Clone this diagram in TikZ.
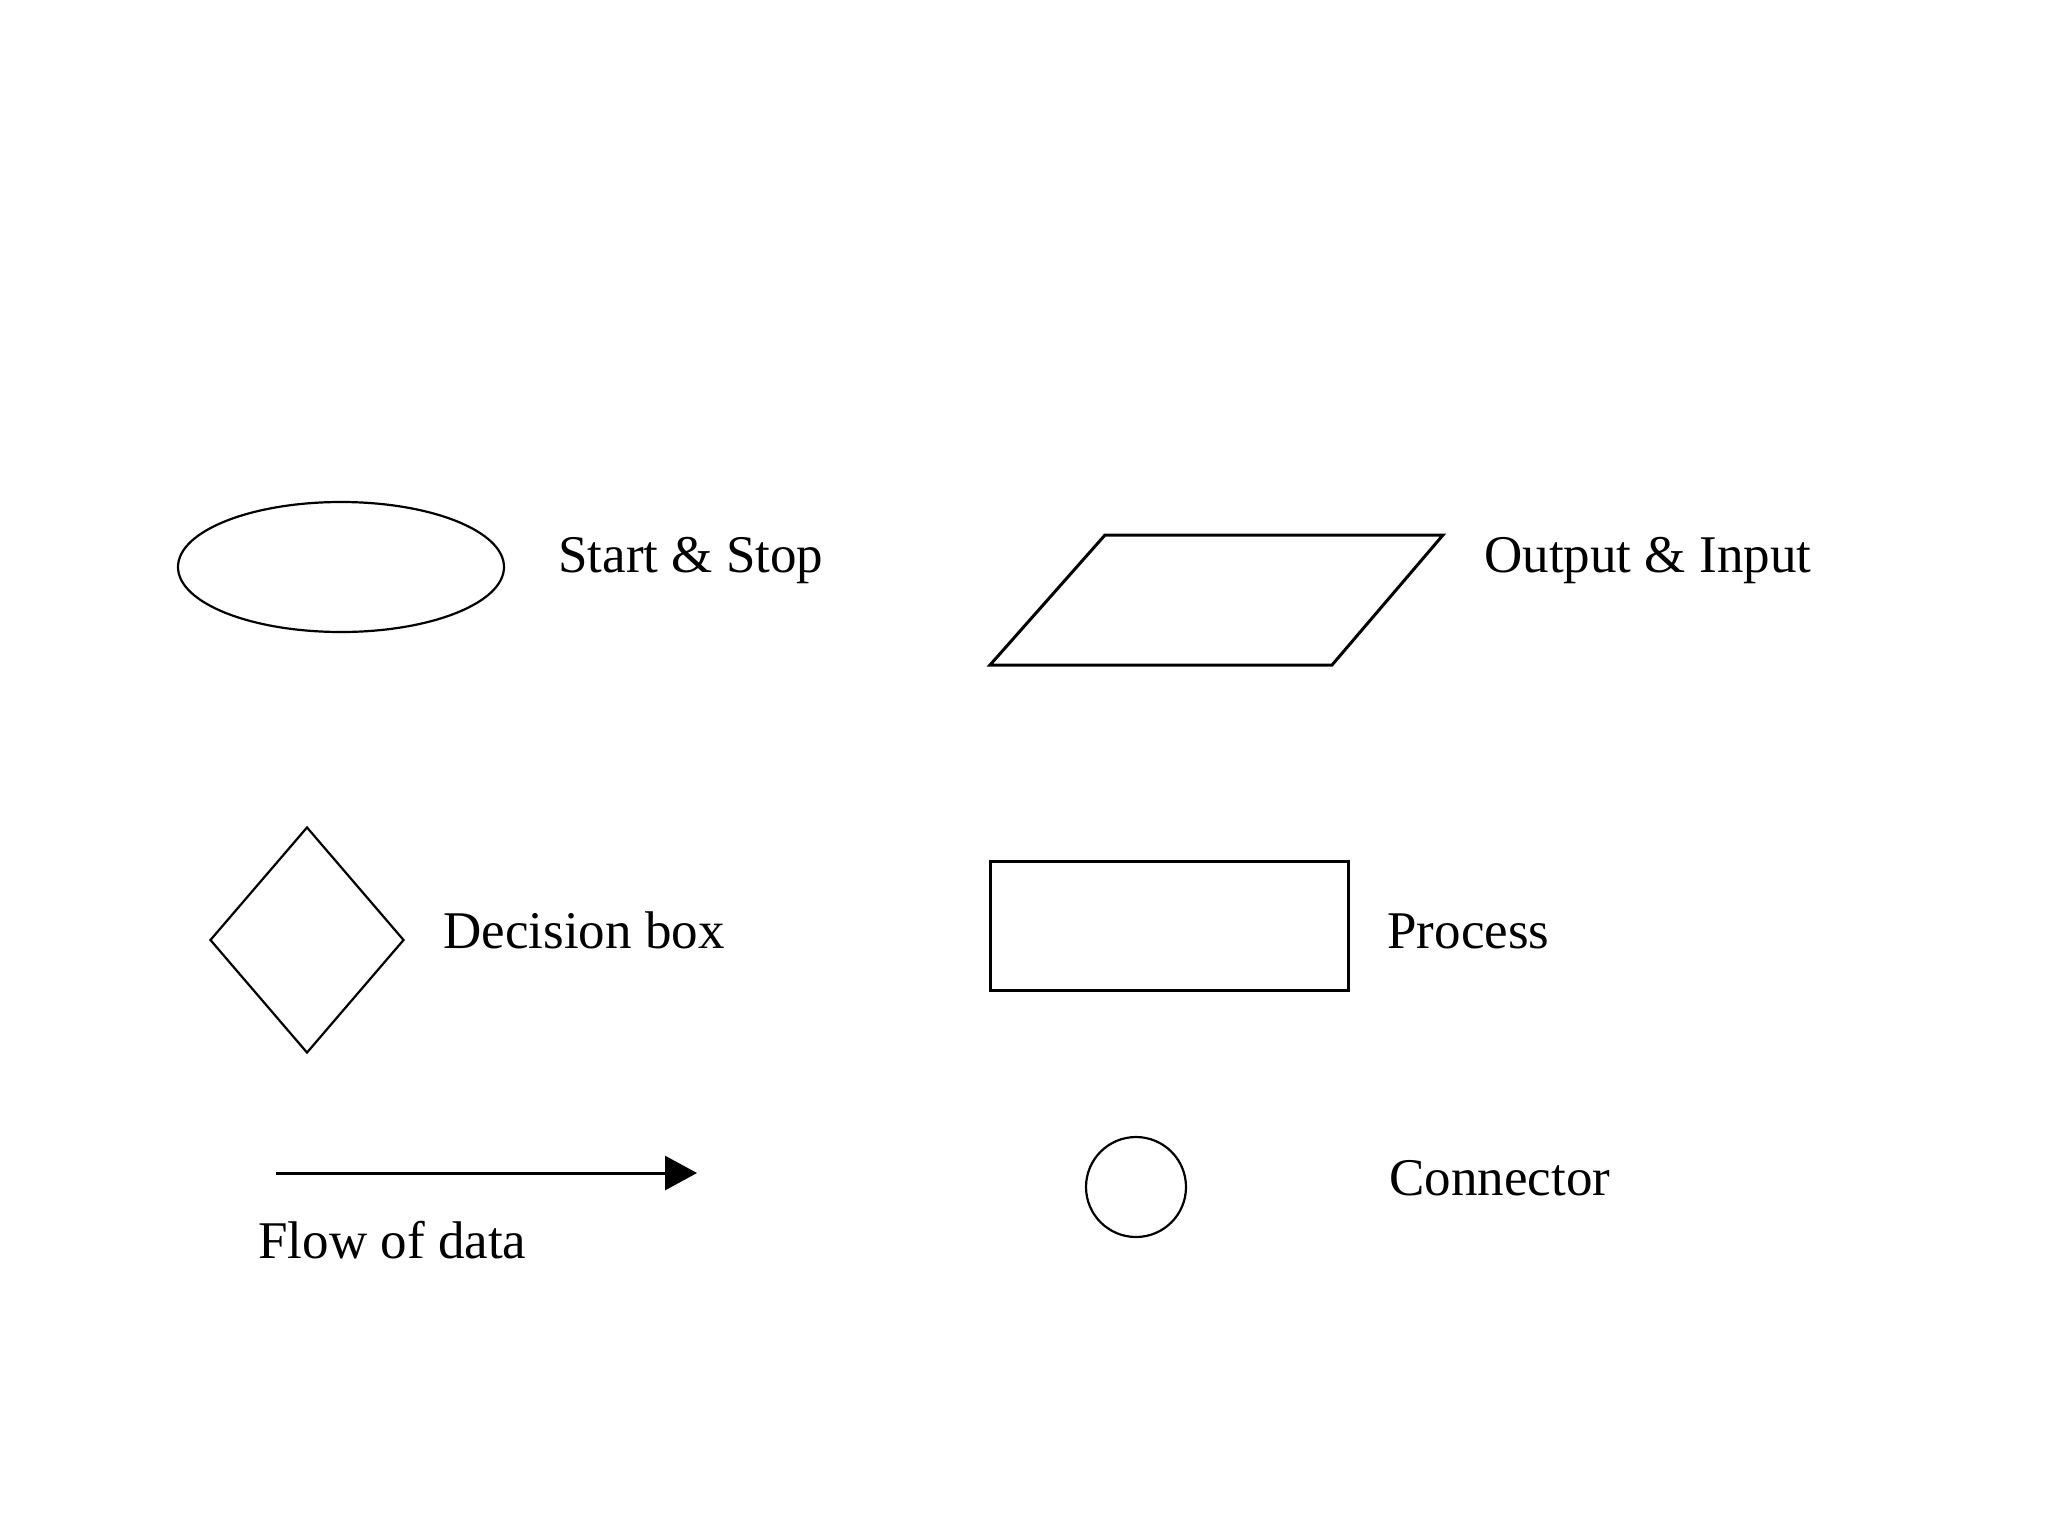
\documentclass[tikz,border=0pt]{standalone}
\usepackage{fontspec}
\setmainfont{Liberation Serif}
\usetikzlibrary{shapes.geometric,arrows.meta}
\begin{document}
\begin{tikzpicture}[x=0.5pt,y=-0.5pt,
  thinline/.style={draw=black,line width=1.1pt},
  thickline/.style={draw=black,line width=1.5pt},
  lbl/.style={anchor=base west,inner sep=0pt,font=\fontsize{26.5}{30}\selectfont}]
\useasboundingbox[fill=white] (0,0) rectangle (2048,1536);
% Start & Stop
\node[thinline,ellipse,minimum width=163pt,minimum height=65pt,inner sep=0pt] (term) at (341,567) {};
\node[lbl] (termlbl) at (558,572) {Start \& Stop};
% Output & Input
\coordinate (io1) at (990,665);
\coordinate (io2) at (1332,665);
\coordinate (io3) at (1443,535);
\coordinate (io4) at (1105,535);
\draw[thickline,line join=miter] (io1) -- (io2) -- (io3) -- (io4) -- cycle;
\node[lbl] (iolbl) at (1484,572) {Output \& Input};
% Decision
\node[thinline,diamond,minimum width=97pt,minimum height=113pt,inner sep=0pt] (dec) at (307,940) {};
\node[lbl] (declbl) at (443,948) {Decision box};
% Process
\node[thickline,rectangle,minimum width=179pt,minimum height=64.5pt,inner sep=0pt] (proc) at (1169,925.5) {};
\node[lbl] (proclbl) at (1387,948) {Process};
% Flow of data
\coordinate (fa) at (276,1173);
\coordinate (fb) at (697,1173);
\draw[line width=1.5pt,-{Triangle[length=16pt,width=17pt]}] (fa) -- (fb);
\node[lbl] (flowlbl) at (258,1258) {Flow of data};
% Connector
\node[thinline,circle,minimum size=50pt,inner sep=0pt] (conn) at (1136,1187) {};
\node[lbl] (connlbl) at (1389,1195) {Connector};
\end{tikzpicture}
\end{document}
